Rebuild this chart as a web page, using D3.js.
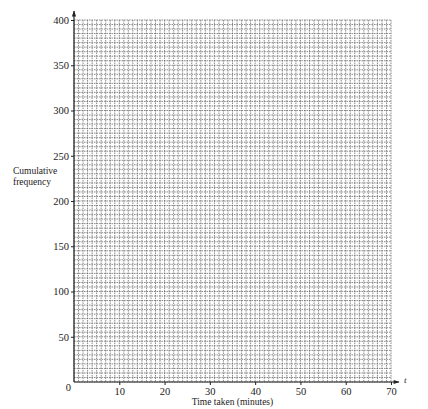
<!DOCTYPE html>
<html><head><meta charset="utf-8">
<script src="https://cdn.jsdelivr.net/npm/d3@7"></script>
<style>body{margin:0;background:#fff}svg{display:block}text{font-family:"Liberation Serif","DejaVu Serif",serif;fill:#222}</style>
</head><body><svg id="c" width="428" height="409"></svg>
<script>
const xTicks = [10,20,30,40,50,60,70];
const yTicks = [50,100,150,200,250,300,350,400];
const xDomain = [0,70];
const yDomain = [0,400];
const xMinorStep = 1;
const yMinorStep = 5;
const yLabelLines = ["Cumulative","frequency"];
const xTitle = "Time taken (minutes)";

const svg = d3.select("#c");
const x = d3.scaleLinear().domain(xDomain).range([74,391]);
const y = d3.scaleLinear().domain(yDomain).range([382,20]);

const g = svg.append("g");
const xs = d3.range(xDomain[0], xDomain[1]+0.001, xMinorStep);
const ys = d3.range(yDomain[0], yDomain[1]+0.001, yMinorStep);
g.selectAll("line.v").data(xs).join("line")
  .attr("x1",d=>x(d)).attr("x2",d=>x(d)).attr("y1",y(400)).attr("y2",y(0))
  .attr("stroke","#5a5a5a").attr("stroke-width",0.7).attr("stroke-dasharray","1.6,0.9");
g.selectAll("line.h").data(ys).join("line")
  .attr("y1",d=>y(d)).attr("y2",d=>y(d)).attr("x1",x(0)).attr("x2",x(70))
  .attr("stroke","#5a5a5a").attr("stroke-width",0.7).attr("stroke-dasharray","1.6,0.9");

// axes
const xAxis = d3.axisBottom(x).tickValues(xTicks).tickSize(3).tickSizeOuter(0).tickPadding(3);
const yAxis = d3.axisLeft(y).tickValues(yTicks).tickSize(3).tickSizeOuter(0).tickPadding(2);
const ax = svg.append("g").attr("transform",`translate(0,${y(0)})`).call(xAxis);
const ay = svg.append("g").attr("transform",`translate(${x(0)},0)`).call(yAxis);
[ax,ay].forEach(a=>{a.select(".domain").remove();a.selectAll("line").attr("stroke","#222");a.selectAll("text").attr("font-size",10.5).attr("font-family","Liberation Serif").attr("fill","#222");});

// axis lines with arrows
svg.append("defs").append("marker").attr("id","ar").attr("viewBox","0 0 10 10").attr("refX",9).attr("refY",5)
  .attr("markerWidth",7).attr("markerHeight",5).attr("orient","auto")
  .append("path").attr("d","M0,1.5L10,5L0,8.5Z").attr("fill","#222");
svg.append("line").attr("x1",x(0)).attr("x2",x(0)).attr("y1",y(0)).attr("y2",11)
  .attr("stroke","#222").attr("stroke-width",1.2).attr("marker-end","url(#ar)");
svg.append("line").attr("x1",x(0)).attr("x2",399).attr("y1",y(0)).attr("y2",y(0))
  .attr("stroke","#222").attr("stroke-width",1.2).attr("marker-end","url(#ar)");

svg.append("text").attr("x",x(0)-3).attr("y",y(0)+9).attr("text-anchor","end").attr("font-size",10.5).text("0");
svg.append("text").attr("x",404).attr("y",y(0)+1).attr("font-size",9).attr("font-style","italic").text("t");
svg.append("text").attr("x",(x(0)+x(70))/2).attr("y",405).attr("text-anchor","middle").attr("font-size",9.5).text(xTitle);
svg.append("text").attr("x",13).attr("y",174).attr("font-size",9.5)
  .selectAll("tspan").data(yLabelLines).join("tspan").attr("x",13).attr("dy",(d,i)=>i?11:0).text(d=>d);
</script></body></html>
